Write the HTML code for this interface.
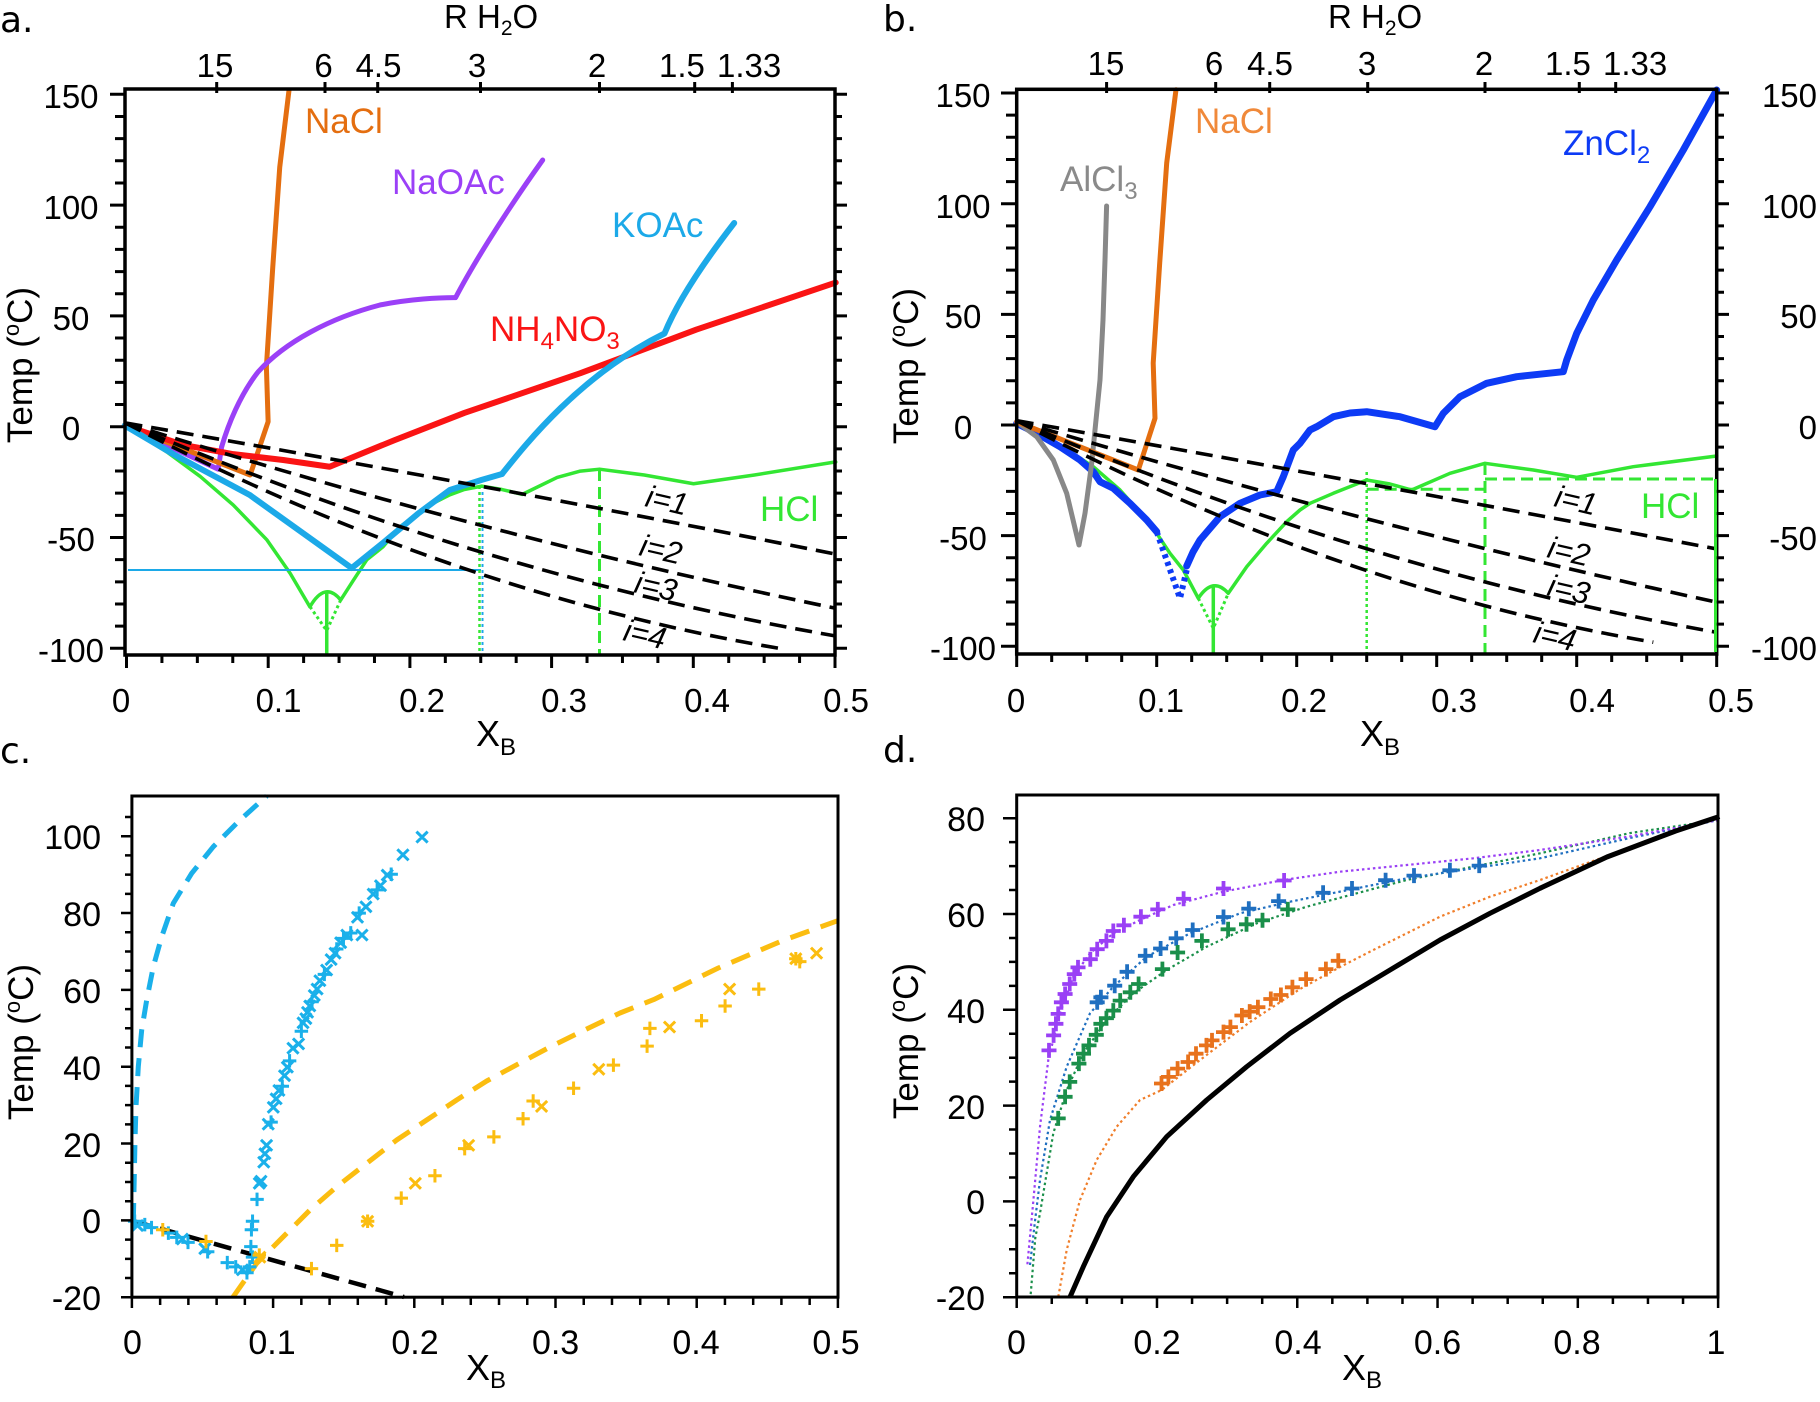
<!DOCTYPE html>
<html><head><meta charset="utf-8"><title>Phase diagrams</title>
<style>
html,body{margin:0;padding:0;background:#fff}
svg{display:block}
text{font-family:"Liberation Sans",Arial,Helvetica,sans-serif;fill:#000}
.n{vector-effect:non-scaling-stroke}
.lab{font-family:"DejaVu Sans","Liberation Sans",sans-serif}
</style></head>
<body>
<svg width="1820" height="1402" viewBox="0 0 1820 1402" xmlns="http://www.w3.org/2000/svg">
<rect width="1820" height="1402" fill="#fff"/>

<!-- ================= PANEL A ================= -->
<g fill="none" stroke-linejoin="round" stroke-linecap="round" transform="scale(0.58036,0.48469)">
  <path class="n" stroke="#33e633" stroke-width="3.5" d="M218,880 L287,932 L345,983 L402,1042 L460,1114 L500,1183 L534,1252 Q560,1198 587,1238 L609,1197 L632,1155 L660,1128 L689,1087 L747,1038 L775,1021 L800,1010 L830,1003 L865,1010 L900,1020 L960,985 L1000,972 L1033,968 L1110,980 L1195,998 L1300,980 L1440,953"/>
  <path class="n" stroke="#33e633" stroke-width="3.5" d="M563,1222 V1347"/>
  <path class="n" stroke="#9b40f7" stroke-width="5" d="M215,878 L376,968 L382,921"/>
  <path class="n" stroke="#e46e10" stroke-width="5" d="M215,878 L431,980 L462,870 L459,757 L470,551 L482,345 L498,186"/>
  <path class="n" stroke="#fa1414" stroke-width="6" d="M215,878 L316,918 L402,937 L488,949 L568,963 L680,908 L800,852 L1000,770 L1200,680 L1440,583"/>
  <path class="n" stroke="#1ca9e8" stroke-width="6" d="M215,878 L300,938 L430,1021 L606,1172 L660,1120 L720,1060 L775,1011 L830,990 L865,978"/>
</g>
<g fill="none" stroke-linejoin="round" stroke-linecap="round">
  <path stroke="#9b40f7" stroke-width="5" d="M221.7,446.7 C228,425 240,395 258,372 C285,342 330,318 380,305 C410,299 440,297.5 455.6,297.6 C470,270 500,220 542.7,160"/>
  <path stroke="#1ca9e8" stroke-width="6" d="M502,474 C525,445 580,375 664.5,333.5 C672,315 690,280 734.2,223"/>
</g>
<path d="M128,570 H481" stroke="#1ca9e8" stroke-width="2" fill="none"/>
<path d="M479.5,486 V655" stroke="#33e633" stroke-width="2.5" stroke-dasharray="3 3" fill="none"/>
<path d="M482.5,492 V655" stroke="#1ca9e8" stroke-width="2" stroke-dasharray="3 3" fill="none"/>
<path d="M599.5,469 V655" stroke="#33e633" stroke-width="3" stroke-dasharray="12 6" fill="none"/>
<path d="M310,606.7 L326.7,630.7 L340.7,600" stroke="#33e633" stroke-width="3" stroke-dasharray="3 3" fill="none"/>
<g fill="none" stroke="#000" stroke-width="3.6" stroke-dasharray="17 9">
  <path d="M125.5,423 Q480.6,483.85 835.7,554.1"/>
  <path d="M125.5,423 Q480.6,534.75 835.7,608.3"/>
  <path d="M125.5,423 Q480.6,574.3 835.7,636"/>
  <path d="M125.5,423 Q453,593.6 780.6,648.6"/>
</g>
<!-- axes a -->
<rect x="125" y="89" width="710" height="566" fill="none" stroke="#000" stroke-width="3.5"/>
<g fill="none" stroke="#000" stroke-width="3" transform="translate(0,426.7) scale(1,-2.216)">
  <path class="n" d="M110 150H125M115 140H125M115 130H125M115 120H125M115 110H125M110 100H125M115 90H125M115 80H125M115 70H125M115 60H125M110 50H125M115 40H125M115 30H125M115 20H125M115 10H125M110 0H125M115 -10H125M115 -20H125M115 -30H125M115 -40H125M110 -50H125M115 -60H125M115 -70H125M115 -80H125M115 -90H125M110 -100H125"/>
  <path class="n" d="M835 150H847M835 140H842M835 130H842M835 120H842M835 110H842M835 100H847M835 90H842M835 80H842M835 70H842M835 60H842M835 50H847M835 40H842M835 30H842M835 20H842M835 10H842M835 0H847M835 -10H842M835 -20H842M835 -30H842M835 -40H842M835 -50H847M835 -60H842M835 -70H842M835 -80H842M835 -90H842M835 -100H847"/>
</g>
<g fill="none" stroke="#000" stroke-width="3" transform="translate(126.5,0) scale(1417,1)">
  <path class="n" d="M0 655V668M.025 655V663M.05 655V663M.075 655V663M.1 655V668M.125 655V663M.15 655V663M.175 655V663M.2 655V668M.225 655V663M.25 655V663M.275 655V663M.3 655V668M.325 655V663M.35 655V663M.375 655V663M.4 655V668M.425 655V663M.45 655V663M.475 655V663M.5 655V668"/>
</g>
<path d="M216.7 82V93M325 82V93M377.7 82V93M480.5 82V93M599.5 82V93M694.7 82V93M732.4 82V93" stroke="#000" stroke-width="3" fill="none"/>
<g font-size="33" text-anchor="middle">
  <text x="71" y="108">150</text><text x="71" y="219">100</text><text x="71" y="330">50</text>
  <text x="71" y="440">0</text><text x="71" y="551">-50</text><text x="71" y="662">-100</text>
  <text x="121" y="712">0</text><text x="278.5" y="712">0.1</text><text x="422" y="712">0.2</text>
  <text x="564" y="712">0.3</text><text x="707" y="712">0.4</text><text x="846" y="712">0.5</text>
  <text x="215" y="77">15</text><text x="323.5" y="77">6</text><text x="378.5" y="77">4.5</text>
  <text x="477" y="77">3</text><text x="597" y="77">2</text>
</g>
<g font-size="33"><text x="659" y="77">1.5</text><text x="717" y="77">1.33</text></g>
<text x="444" y="28" font-size="33">R H<tspan font-size="21" dy="7">2</tspan><tspan dy="-7">O</tspan></text>
<text x="476" y="746" font-size="36">X<tspan font-size="24" dy="9">B</tspan></text>
<text transform="translate(32,365) rotate(-90)" text-anchor="middle" font-size="35">Temp (<tspan font-size="22" dy="-13">o</tspan><tspan dy="13">C)</tspan></text>
<text class="lab" x="0" y="32" font-size="36">a.</text>
<g font-size="35">
  <text x="305" y="133" style="fill:#e46e10">NaCl</text>
  <text x="392" y="194" style="fill:#9b40f7">NaOAc</text>
  <text x="612" y="237" style="fill:#1ca9e8">KOAc</text>
  <text x="490" y="341" style="fill:#fa1414">NH<tspan font-size="24" dy="8">4</tspan><tspan dy="-8">NO</tspan><tspan font-size="24" dy="8">3</tspan></text>
  <text x="760" y="521" style="fill:#33e633">HCl</text>
</g>
<g font-size="31" font-style="italic">
  <text x="644" y="506" transform="rotate(13 644 506)">i=1</text>
  <text x="638" y="555" transform="rotate(13 638 555)">i=2</text>
  <text x="633" y="592" transform="rotate(13 633 592)">i=3</text>
  <text x="622" y="640" transform="rotate(13 622 640)">i=4</text>
</g>

<!-- ================= PANEL B ================= -->
<g fill="none" stroke-linejoin="round" stroke-linecap="round">
  <path stroke="#33e633" stroke-width="3.5" d="M1016.7,421.7 L1046.7,436.7 L1093.3,466.7 L1120,490 L1146.7,520 L1156.7,533.3 L1170,553.3 L1183.3,570 L1198.3,598.3 Q1213,576 1228.3,593.3 L1246.7,566.7 L1266.7,543.3 L1286.7,521.7 L1300,510 L1310,503.3 L1333.3,493.3 L1366.7,480 L1390,484 L1411.7,490 L1450,473.3 L1485,463.3 L1533.3,470 L1576.7,477.3 L1633.3,466.7 L1716.7,456"/>
  <path stroke="#33e633" stroke-width="3.5" d="M1213.3,586 V652"/>
  <path stroke="#0d3bf5" stroke-width="7" d="M1016.7,423.3 L1036.7,433.3 L1060,446.7 L1080,460 L1093.3,471.7 L1100,481.7 L1113.3,488.3 L1130,503.3 L1146.7,520 L1156.7,531.7"/>
  <path stroke="#0d3bf5" stroke-width="7" d="M1186.7,566 L1193,552 L1200,540 L1220,516.7 L1240,503.3 L1260,495 L1276.7,491.7 L1283.3,476.7 L1293.3,450 L1300,443.3 L1310,430 L1316.7,426.7 L1333.3,416.7 L1350,413 L1366.7,411.7 L1400,416.7 L1435,426.7 L1443.3,413.3 L1460,396.7 L1486.7,383.3 L1516.7,376.7 L1563.3,371.7 L1566.7,360 L1576.7,333.3 L1593.3,300 L1616.7,260 L1650,206.7 L1683.3,150 L1716.7,90"/>
  <path stroke="#888888" stroke-width="5" d="M1016.7,421.7 L1036.7,436.7 L1053.3,460 L1066.7,493.3 L1079,545 L1085,513.3 L1091.7,463.3 L1096,420 L1100,380 L1103,320 L1105,260 L1106.6,206"/>
  <path stroke="#e46e10" stroke-width="5" d="M1016.7,421.7 L1138.3,470 L1155,418.3 L1153.2,363 L1159.7,263 L1166.7,163 L1176,89.7"/>
</g>
<path d="M1156.7,531.7 L1180,598.3 L1186.7,570" stroke="#0d3bf5" stroke-width="6" stroke-dasharray="4 4" fill="none"/>
<path d="M1198.3,598.3 L1213.3,628.3 L1228.3,593.3" stroke="#33e633" stroke-width="3" stroke-dasharray="3 3" fill="none"/>
<path d="M1366.7,472 V653" stroke="#33e633" stroke-width="2.5" stroke-dasharray="3 3" fill="none"/>
<path d="M1366.7,489.3 H1485 M1485,463 V654 M1485,479 H1716" stroke="#33e633" stroke-width="3" stroke-dasharray="12 6" fill="none"/>
<g fill="none" stroke="#000" stroke-width="3.6" stroke-dasharray="17 9">
  <path d="M1016.7,420.7 Q1367.35,482.5 1718,549.2"/>
  <path d="M1016.7,420.7 Q1367.35,526.2 1718,602.5"/>
  <path d="M1016.7,420.7 Q1367.35,571.2 1718,632.5"/>
  <path d="M1016.7,420.7 Q1335,588.2 1653.3,642.2"/>
</g>
<rect x="1016.7" y="89.3" width="700" height="564.7" fill="none" stroke="#000" stroke-width="3.5"/>
<path d="M1715.5,479 V652" stroke="#33e633" stroke-width="3" fill="none"/>
<g fill="none" stroke="#000" stroke-width="3" transform="translate(0,425) scale(1,-2.213)">
  <path class="n" d="M1001 150H1017M1006 140H1017M1006 130H1017M1006 120H1017M1006 110H1017M1001 100H1017M1006 90H1017M1006 80H1017M1006 70H1017M1006 60H1017M1001 50H1017M1006 40H1017M1006 30H1017M1006 20H1017M1006 10H1017M1001 0H1017M1006 -10H1017M1006 -20H1017M1006 -30H1017M1006 -40H1017M1001 -50H1017M1006 -60H1017M1006 -70H1017M1006 -80H1017M1006 -90H1017M1001 -100H1017"/>
  <path class="n" d="M1716.7 150H1729M1716.7 140H1724M1716.7 130H1724M1716.7 120H1724M1716.7 110H1724M1716.7 100H1729M1716.7 90H1724M1716.7 80H1724M1716.7 70H1724M1716.7 60H1724M1716.7 50H1729M1716.7 40H1724M1716.7 30H1724M1716.7 20H1724M1716.7 10H1724M1716.7 0H1729M1716.7 -10H1724M1716.7 -20H1724M1716.7 -30H1724M1716.7 -40H1724M1716.7 -50H1729M1716.7 -60H1724M1716.7 -70H1724M1716.7 -80H1724M1716.7 -90H1724M1716.7 -100H1729"/>
</g>
<g fill="none" stroke="#000" stroke-width="3" transform="translate(1016.7,0) scale(1400,1)">
  <path class="n" d="M0 654V667M.025 654V662M.05 654V662M.075 654V662M.1 654V667M.125 654V662M.15 654V662M.175 654V662M.2 654V667M.225 654V662M.25 654V662M.275 654V662M.3 654V667M.325 654V662M.35 654V662M.375 654V662M.4 654V667M.425 654V662M.45 654V662M.475 654V662M.5 654V667"/>
</g>
<path d="M1106.6 82V93M1215.7 82V93M1269.7 82V93M1367.7 82V93M1485 82V93M1579.3 82V93M1615.7 82V93" stroke="#000" stroke-width="3" fill="none"/>
<g font-size="33" text-anchor="middle">
  <text x="963" y="107">150</text><text x="963" y="218">100</text><text x="963" y="328">50</text>
  <text x="963" y="439">0</text><text x="963" y="550">-50</text><text x="963" y="660">-100</text>
  <text x="1016" y="712">0</text><text x="1161" y="712">0.1</text><text x="1304" y="712">0.2</text>
  <text x="1454" y="712">0.3</text><text x="1592" y="712">0.4</text><text x="1731" y="712">0.5</text>
  <text x="1106" y="75">15</text><text x="1214" y="75">6</text><text x="1270" y="75">4.5</text>
  <text x="1367" y="75">3</text><text x="1484" y="75">2</text>
</g>
<g font-size="33"><text x="1545" y="75">1.5</text><text x="1603" y="75">1.33</text></g>
<g font-size="33" text-anchor="end">
  <text x="1817" y="107">150</text><text x="1817" y="218">100</text><text x="1817" y="328">50</text>
  <text x="1817" y="439">0</text><text x="1817" y="550">-50</text><text x="1817" y="660">-100</text>
</g>
<text x="1328" y="28" font-size="33">R H<tspan font-size="21" dy="7">2</tspan><tspan dy="-7">O</tspan></text>
<text x="1360" y="746" font-size="36">X<tspan font-size="24" dy="9">B</tspan></text>
<text transform="translate(918,366) rotate(-90)" text-anchor="middle" font-size="35">Temp (<tspan font-size="22" dy="-13">o</tspan><tspan dy="13">C)</tspan></text>
<text class="lab" x="883" y="31" font-size="36">b.</text>
<g font-size="35">
  <text x="1195" y="133" style="fill:#f0893a">NaCl</text>
  <text x="1060" y="191" style="fill:#8a8a8a">AlCl<tspan font-size="24" dy="8">3</tspan></text>
  <text x="1563" y="155" style="fill:#0d3bf5">ZnCl<tspan font-size="24" dy="8">2</tspan></text>
  <text x="1641" y="518" style="fill:#33e633">HCl</text>
</g>
<g font-size="31" font-style="italic">
  <text x="1553" y="506" transform="rotate(13 1553 506)">i=1</text>
  <text x="1546" y="557" transform="rotate(13 1546 557)">i=2</text>
  <text x="1546" y="595" transform="rotate(13 1546 595)">i=3</text>
  <text x="1532" y="642" transform="rotate(13 1532 642)">i=4</text>
</g>

<!-- ================= PANEL C ================= -->
<path d="M133.3,1221 L134,1190 L135,1140 L136,1106.7 L138.3,1066.7 L141.7,1030 L146.7,1000 L153.3,966.7 L161.7,936.7 L173.3,903.3 L191.7,873.3 L213.3,846.7 L240,820 L266.7,796" stroke="#1ab0ea" stroke-width="5" stroke-dasharray="18 11" fill="none" stroke-linejoin="round"/>
<path d="M232.9,1297.2 L256.7,1263.3 L283.3,1236.7 L310,1210 L336.7,1186.7 L366.7,1163.3 L396.7,1140 L426.7,1120 L456.7,1100 L486.7,1081 L520,1063 L550,1047 L586.7,1029 L620,1013 L653.7,999.6 L718.3,968 L782.8,940.5 L837.8,920.7" stroke="#fbbd10" stroke-width="5" stroke-dasharray="20 12" fill="none" stroke-linejoin="round"/>
<path d="M133,1221 L404,1297" stroke="#000" stroke-width="4.5" stroke-dasharray="18 10" fill="none"/>
<g transform="translate(0,740) scale(0.56122,0.42219)" fill="none" stroke-linecap="butt">
  <path class="n" stroke="#1ab0ea" stroke-width="3" d="M240 1140m-12 0h24m-12-16v32M258 1148m-12 0h24m-12-16v32M270 1155m-12 0h24m-12-16v32M300 1168m-12 0h24m-12-16v32M315 1178m-12 0h24m-12-16v32M335 1190m-12 0h24m-12-16v32M370 1212m-12 0h24m-12-16v32M405 1238m-12 0h24m-12-16v32M420 1248m-12 0h24m-12-16v32M440 1262m-12 0h24m-12-16v32M445 1248m-12 0h24m-12-16v32M450 1225m-12 0h24m-12-16v32M447 1200m-12 0h24m-12-16v32M448 1160m-12 0h24m-12-16v32M450 1140m-12 0h24m-12-16v32M458 1088m-12 0h24m-12-16v32M483 905m-12 0h24m-12-16v32M503 820m-12 0h24m-12-16v32M516 760m-12 0h24m-12-16v32M537 690m-12 0h24m-12-16v32M556 620m-12 0h24m-12-16v32M578 555m-12 0h24m-12-16v32M600 495m-12 0h24m-12-16v32M612 470m-12 0h24m-12-16v32M625 457m-12 0h24m-12-16v32M640 410m-12 0h24m-12-16v32M672 355m-12 0h24m-12-16v32M697 318m-12 0h24m-12-16v32"/>
  <path class="n" stroke="#1ab0ea" stroke-width="3" d="M245 1150m-10-13l20 26m0-26l-20 26M325 1182m-10-13l20 26m0-26l-20 26M365 1205m-10-13l20 26m0-26l-20 26M432 1255m-10-13l20 26m0-26l-20 26M462 1050m-10-13l20 26m0-26l-20 26M465 1045m-10-13l20 26m0-26l-20 26M470 1000m-10-13l20 26m0-26l-20 26M472 980m-10-13l20 26m0-26l-20 26M475 960m-10-13l20 26m0-26l-20 26M478 910m-10-13l20 26m0-26l-20 26M487 870m-10-13l20 26m0-26l-20 26M492 850m-10-13l20 26m0-26l-20 26M497 830m-10-13l20 26m0-26l-20 26M507 795m-10-13l20 26m0-26l-20 26M512 775m-10-13l20 26m0-26l-20 26M522 730m-10-13l20 26m0-26l-20 26M532 720m-10-13l20 26m0-26l-20 26M540 670m-10-13l20 26m0-26l-20 26M545 660m-10-13l20 26m0-26l-20 26M548 645m-10-13l20 26m0-26l-20 26M552 630m-10-13l20 26m0-26l-20 26M560 605m-10-13l20 26m0-26l-20 26M565 590m-10-13l20 26m0-26l-20 26M570 570m-10-13l20 26m0-26l-20 26M582 545m-10-13l20 26m0-26l-20 26M590 520m-10-13l20 26m0-26l-20 26M597 505m-10-13l20 26m0-26l-20 26M607 480m-10-13l20 26m0-26l-20 26M618 462m-10-13l20 26m0-26l-20 26M645 462m-10-13l20 26m0-26l-20 26M637 420m-10-13l20 26m0-26l-20 26M652 395m-10-13l20 26m0-26l-20 26M665 365m-10-13l20 26m0-26l-20 26M678 345m-10-13l20 26m0-26l-20 26M690 320m-10-13l20 26m0-26l-20 26M718 272m-10-13l20 26m0-26l-20 26M752 230m-10-13l20 26m0-26l-20 26"/>
  <path class="n" stroke="#fbbd10" stroke-width="3" d="M290 1160m-12 0h24m-12-16v32M367 1188m-12 0h24m-12-16v32M462 1220m-12 0h24m-12-16v32M555 1252m-12 0h24m-12-16v32M600 1197m-12 0h24m-12-16v32M655 1140m-12 0h24m-12-16v32M715 1085m-12 0h24m-12-16v32M775 1032m-12 0h24m-12-16v32M828 968m-12 0h24m-12-16v32M880 940m-12 0h24m-12-16v32M932 897m-12 0h24m-12-16v32M950 855m-12 0h24m-12-16v32M1022 825m-12 0h24m-12-16v32M1093 770m-12 0h24m-12-16v32M1153 725m-12 0h24m-12-16v32M1158 683m-12 0h24m-12-16v32M1250 665m-12 0h24m-12-16v32M1292 630m-12 0h24m-12-16v32M1352 590m-12 0h24m-12-16v32M1418 518m-12 0h24m-12-16v32M1425 525m-12 0h24m-12-16v32"/>
  <path class="n" stroke="#fbbd10" stroke-width="3" d="M463 1225m-10-13l20 26m0-26l-20 26M655 1140m-10-13l20 26m0-26l-20 26M740 1050m-10-13l20 26m0-26l-20 26M835 960m-10-13l20 26m0-26l-20 26M965 868m-10-13l20 26m0-26l-20 26M1067 780m-10-13l20 26m0-26l-20 26M1193 680m-10-13l20 26m0-26l-20 26M1300 590m-10-13l20 26m0-26l-20 26M1418 518m-10-13l20 26m0-26l-20 26M1455 505m-10-13l20 26m0-26l-20 26"/>
</g>
<rect x="131.9" y="796" width="706.1" height="501.2" fill="none" stroke="#000" stroke-width="3"/>
<g fill="none" stroke="#000" stroke-width="2.5" transform="translate(0,1220.4) scale(1,-3.842)">
  <path class="n" d="M121 -20H132M125 -15H132M125 -10H132M125 -5H132M121 0H132M125 5H132M125 10H132M125 15H132M121 20H132M125 25H132M125 30H132M125 35H132M121 40H132M125 45H132M125 50H132M125 55H132M121 60H132M125 65H132M125 70H132M125 75H132M121 80H132M125 85H132M125 90H132M125 95H132M121 100H132M125 105H132"/>
</g>
<g fill="none" stroke="#000" stroke-width="2.5" transform="translate(131.9,0) scale(1412,1)">
  <path class="n" d="M0 1297V1308M.02 1297V1305M.04 1297V1305M.06 1297V1305M.08 1297V1305M.1 1297V1308M.12 1297V1305M.14 1297V1305M.16 1297V1305M.18 1297V1305M.2 1297V1308M.22 1297V1305M.24 1297V1305M.26 1297V1305M.28 1297V1305M.3 1297V1308M.32 1297V1305M.34 1297V1305M.36 1297V1305M.38 1297V1305M.4 1297V1308M.42 1297V1305M.44 1297V1305M.46 1297V1305M.48 1297V1305M.5 1297V1308"/>
</g>
<g font-size="34" text-anchor="end">
  <text x="101" y="849">100</text><text x="101" y="926">80</text><text x="101" y="1003">60</text>
  <text x="101" y="1080">40</text><text x="101" y="1157">20</text><text x="101" y="1233">0</text><text x="101" y="1310">-20</text>
</g>
<g font-size="34" text-anchor="middle">
  <text x="132.4" y="1354">0</text><text x="272" y="1354">0.1</text><text x="415" y="1354">0.2</text>
  <text x="555.6" y="1354">0.3</text><text x="696" y="1354">0.4</text><text x="836" y="1354">0.5</text>
</g>
<text x="466" y="1380" font-size="36">X<tspan font-size="24" dy="8">B</tspan></text>
<text transform="translate(33,1042) rotate(-90)" text-anchor="middle" font-size="35">Temp (<tspan font-size="22" dy="-13">o</tspan><tspan dy="13">C)</tspan></text>
<text class="lab" x="0" y="763" font-size="36">c.</text>

<!-- ================= PANEL D ================= -->
<g fill="none" stroke-width="2.2" stroke-dasharray="2.5 3" stroke-linejoin="round">
  <path stroke="#f07e2a" d="M1058.3,1296.7 L1066.7,1250 L1080,1200 L1096.7,1160 L1116.7,1126.7 L1140,1100 L1161.7,1090 L1200,1060 L1250,1022 L1300,989 L1340,967 L1373.3,950 L1406.7,933.3 L1440,916.7 L1490,896.7 L1540,880 L1606.9,856 L1675.7,831 L1719.4,818"/>
  <path stroke="#1a8f4a" d="M1030.7,1294.1 L1035.3,1237.8 L1040,1213.3 L1053.3,1133.3 L1066.7,1090 L1083.3,1053.3 L1106.7,1020 L1133.3,993.3 L1166.7,970 L1206.7,946.7 L1256.7,923.3 L1306.7,906.7 L1356.7,893.3 L1406.7,880 L1473.3,866.7 L1540,853.3 L1629.8,833.1 L1719.4,819.9"/>
  <path stroke="#1f6fc0" d="M1030,1265 L1035,1221 L1040,1180 L1050,1120 L1066.7,1066.7 L1090,1013.3 L1113.3,986.7 L1146.7,956.7 L1190,933.3 L1240,913.3 L1290,901.7 L1356.7,888.3 L1406.7,878.3 L1473.3,868.3 L1540,858.3 L1629.8,838 L1719.4,819.9"/>
  <path stroke="#9a40f5" d="M1027.4,1264.3 L1033,1204.6 L1040,1126.7 L1048.3,1060 L1060,1013.3 L1073.3,976.7 L1090,953.3 L1113.3,933.3 L1140,920 L1173.3,905 L1223.3,891.7 L1283.3,880 L1340,871.7 L1406.7,865 L1473.3,858.3 L1540,850 L1629.8,836.4 L1719.4,819.9"/>
</g>
<path fill="none" stroke="#000" stroke-width="5" stroke-linejoin="round" d="M1070,1297 L1083.3,1266.7 L1106.7,1216.7 L1133.3,1176.7 L1166.7,1136.7 L1206.7,1100 L1246.7,1066.7 L1290,1033.3 L1340,1000 L1390,970 L1440,940 L1490,913.3 L1540,888.3 L1606.9,857 L1675.7,831 L1719.4,816.5"/>
<g fill="none" stroke-width="3.8">
  <path stroke="#9a40f5" d="M1049 1050.4m-7.5 0h15m-7.5-7.5v15M1053.6 1035.4m-7.5 0h15m-7.5-7.5v15M1055.9 1023.8m-7.5 0h15m-7.5-7.5v15M1058.2 1013.9m-7.5 0h15m-7.5-7.5v15M1061.4 1002.3m-7.5 0h15m-7.5-7.5v15M1065.1 994m-7.5 0h15m-7.5-7.5v15M1069.7 984m-7.5 0h15m-7.5-7.5v15M1074.3 974.1m-7.5 0h15m-7.5-7.5v15M1078 967.4m-7.5 0h15m-7.5-7.5v15M1090.3 959.2m-7.5 0h15m-7.5-7.5v15M1097.2 949.2m-7.5 0h15m-7.5-7.5v15M1106.4 940.9m-7.5 0h15m-7.5-7.5v15M1113.3 931m-7.5 0h15m-7.5-7.5v15M1123.9 925.3m-7.5 0h15m-7.5-7.5v15M1140.9 916.7m-7.5 0h15m-7.5-7.5v15M1157.8 909.4m-7.5 0h15m-7.5-7.5v15M1183.6 898.8m-7.5 0h15m-7.5-7.5v15M1223.5 888.5m-7.5 0h15m-7.5-7.5v15M1284.1 880.5m-7.5 0h15m-7.5-7.5v15"/>
  <path stroke="#1f6fc0" d="M1097.2 1002.3m-7.5 0h15m-7.5-7.5v15M1100.9 997.3m-7.5 0h15m-7.5-7.5v15M1114.7 985.7m-7.5 0h15m-7.5-7.5v15M1127.1 971.8m-7.5 0h15m-7.5-7.5v15M1145.4 955.8m-7.5 0h15m-7.5-7.5v15M1160.6 948.5m-7.5 0h15m-7.5-7.5v15M1176.2 938.3m-7.5 0h15m-7.5-7.5v15M1192.7 930m-7.5 0h15m-7.5-7.5v15M1223.5 917m-7.5 0h15m-7.5-7.5v15M1248.8 908.7m-7.5 0h15m-7.5-7.5v15M1278.6 901.1m-7.5 0h15m-7.5-7.5v15M1323.1 892.8m-7.5 0h15m-7.5-7.5v15M1352 888.5m-7.5 0h15m-7.5-7.5v15M1385.6 880.2m-7.5 0h15m-7.5-7.5v15M1414 875.6m-7.5 0h15m-7.5-7.5v15M1449.9 870.3m-7.5 0h15m-7.5-7.5v15M1479.2 865.6m-7.5 0h15m-7.5-7.5v15"/>
  <path stroke="#1a8f4a" d="M1058.2 1118.4m-7.5 0h15m-7.5-7.5v15M1065.1 1096.8m-7.5 0h15m-7.5-7.5v15M1069.7 1081.9m-7.5 0h15m-7.5-7.5v15M1078.9 1063.6m-7.5 0h15m-7.5-7.5v15M1083.5 1053.7m-7.5 0h15m-7.5-7.5v15M1089 1045.4m-7.5 0h15m-7.5-7.5v15M1096.3 1034.8m-7.5 0h15m-7.5-7.5v15M1100.9 1023.8m-7.5 0h15m-7.5-7.5v15M1106.4 1018.2m-7.5 0h15m-7.5-7.5v15M1113.3 1010.6m-7.5 0h15m-7.5-7.5v15M1120.2 1000.6m-7.5 0h15m-7.5-7.5v15M1130.3 992.3m-7.5 0h15m-7.5-7.5v15M1138.6 984m-7.5 0h15m-7.5-7.5v15M1162.4 969.1m-7.5 0h15m-7.5-7.5v15M1177.6 952.5m-7.5 0h15m-7.5-7.5v15M1201.9 940.9m-7.5 0h15m-7.5-7.5v15M1228.1 929.3m-7.5 0h15m-7.5-7.5v15M1246.5 924.3m-7.5 0h15m-7.5-7.5v15M1262.5 920.3m-7.5 0h15m-7.5-7.5v15M1287.8 909.4m-7.5 0h15m-7.5-7.5v15"/>
  <path stroke="#e8721c" d="M1161.5 1083.5m-7.5 0h15m-7.5-7.5v15M1168.4 1076.9m-7.5 0h15m-7.5-7.5v15M1177.6 1068.6m-7.5 0h15m-7.5-7.5v15M1188.1 1062m-7.5 0h15m-7.5-7.5v15M1196 1053.7m-7.5 0h15m-7.5-7.5v15M1206.5 1045.4m-7.5 0h15m-7.5-7.5v15M1212 1040.4m-7.5 0h15m-7.5-7.5v15M1223.5 1032.1m-7.5 0h15m-7.5-7.5v15M1230.4 1027.1m-7.5 0h15m-7.5-7.5v15M1241.9 1015.5m-7.5 0h15m-7.5-7.5v15M1249.7 1011.6m-7.5 0h15m-7.5-7.5v15M1257.9 1007.2m-7.5 0h15m-7.5-7.5v15M1270.8 999m-7.5 0h15m-7.5-7.5v15M1280.9 995m-7.5 0h15m-7.5-7.5v15M1292.4 987.3m-7.5 0h15m-7.5-7.5v15M1306.1 979.1m-7.5 0h15m-7.5-7.5v15M1325.9 969.1m-7.5 0h15m-7.5-7.5v15M1338.3 960.8m-7.5 0h15m-7.5-7.5v15"/>
</g>
<rect x="1016.7" y="795" width="701.3" height="502" fill="none" stroke="#000" stroke-width="3"/>
<g fill="none" stroke="#000" stroke-width="2.5" transform="translate(0,1201.4) scale(1,-4.79)">
  <path class="n" d="M1003 -20H1017M1009 -15H1017M1009 -10H1017M1009 -5H1017M1003 0H1017M1009 5H1017M1009 10H1017M1009 15H1017M1003 20H1017M1009 25H1017M1009 30H1017M1009 35H1017M1003 40H1017M1009 45H1017M1009 50H1017M1009 55H1017M1003 60H1017M1009 65H1017M1009 70H1017M1009 75H1017M1003 80H1017"/>
</g>
<g fill="none" stroke="#000" stroke-width="2.5" transform="translate(1016.7,0) scale(701.4,1)">
  <path class="n" d="M0 1297V1308M.05 1297V1304M.1 1297V1304M.15 1297V1304M.2 1297V1308M.25 1297V1304M.3 1297V1304M.35 1297V1304M.4 1297V1308M.45 1297V1304M.5 1297V1304M.55 1297V1304M.6 1297V1308M.65 1297V1304M.7 1297V1304M.75 1297V1304M.8 1297V1308M.85 1297V1304M.9 1297V1304M.95 1297V1304M1 1297V1308"/>
</g>
<g font-size="34" text-anchor="end">
  <text x="985" y="831">80</text><text x="985" y="927">60</text><text x="985" y="1023">40</text>
  <text x="985" y="1119">20</text><text x="985" y="1214">0</text><text x="985" y="1310">-20</text>
</g>
<g font-size="34" text-anchor="middle">
  <text x="1016.4" y="1354">0</text><text x="1157" y="1354">0.2</text><text x="1298" y="1354">0.4</text>
  <text x="1437.5" y="1354">0.6</text><text x="1577" y="1354">0.8</text><text x="1716" y="1354">1</text>
</g>
<text x="1342" y="1380" font-size="36">X<tspan font-size="24" dy="8">B</tspan></text>
<text transform="translate(918,1041) rotate(-90)" text-anchor="middle" font-size="35">Temp (<tspan font-size="22" dy="-13">o</tspan><tspan dy="13">C)</tspan></text>
<text class="lab" x="883" y="762" font-size="36">d.</text>
</svg>
</body></html>
